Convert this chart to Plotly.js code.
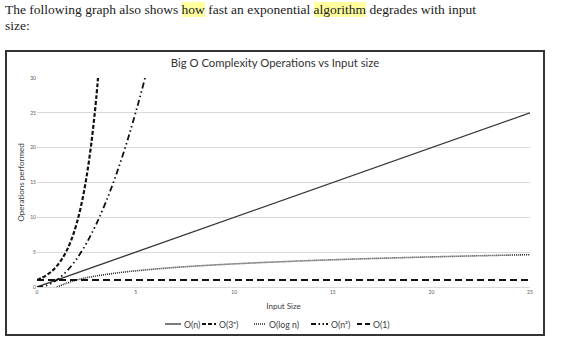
<!DOCTYPE html>
<html>
<head>
<meta charset="utf-8">
<script src="https://cdn.plot.ly/plotly-3.0.1.min.js"></script>
<style>
  html, body { margin: 0; padding: 0; background: #fff; width: 576px; height: 351px; overflow: hidden; }
  .pline { position: absolute; left: 5px; white-space: nowrap; font-family: "Liberation Serif", serif; font-size: 13.5px; line-height: 16px; color: #222; }
  #l1 { top: 2px; }
  #l2 { top: 18px; }
  .hl { background: #ffff9e; }
  #box { position: absolute; left: 5px; top: 50px; width: 536px; height: 282px; border: 2px solid #333; background: #fff; }
  #chart { position: absolute; left: 0; top: 0; width: 576px; height: 351px; }
</style>
</head>
<body>
<div class="pline" id="l1">The following graph also shows <span class="hl">how</span> fast an exponential <span class="hl">algorithm</span> degrades with input</div>
<div class="pline" id="l2">size:</div>
<div id="box"></div>
<div id="chart"></div>
<script>
// Input sizes and operation counts
const nInt = [0,1,2,3,4,5,6,7,8,9,10,11,12,13,14,15,16,17,18,19,20,21,22,23,24,25];
const opsLinear = [0,1,2,3,4,5,6,7,8,9,10,11,12,13,14,15,16,17,18,19,20,21,22,23,24,25];

const nExp = [0,0.25,0.5,0.75,1,1.25,1.5,1.75,2,2.25,2.5,2.75,3,3.25];
const opsExp = [1,1.32,1.73,2.28,3,3.95,5.2,6.84,9,11.84,15.59,20.52,27,35.5];

const nLog = [1,2,3,4,5,6,7,8,9,10,11,12,13,14,15,16,17,18,19,20,21,22,23,24,25];
const opsLog = [0,1,1.58,2,2.32,2.58,2.81,3,3.17,3.32,3.46,3.58,3.7,3.81,3.91,4,4.09,4.17,4.25,4.32,4.39,4.46,4.52,4.58,4.64];

const nSq = [0,0.5,1,1.5,2,2.5,3,3.5,4,4.5,5,5.5,6];
const opsSq = [0,0.25,1,2.25,4,6.25,9,12.25,16,20.25,25,30.25,36];

const opsConst = [1,1,1,1,1,1,1,1,1,1,1,1,1,1,1,1,1,1,1,1,1,1,1,1,1,1];

const seriesNames = ["O(n)", "O(3ⁿ)", "O(log n)", "O(n²)", "O(1)"];
const xTicks = [0,5,10,15,20,25];
const yTicks = [0,5,10,15,20,25,30];

const styles = [
  {color: "#333333", width: 1.3, dash: "solid"},
  {color: "#111111", width: 2.2, dash: "4px,2px"},
  {color: "#222222", width: 1.6, dash: "1px,1px"},
  {color: "#111111", width: 1.8, dash: "6px,3px,1.5px,3px,1.5px,3px"},
  {color: "#111111", width: 2, dash: "7px,4px"}
];

const traces = [
  {x: nInt, y: opsLinear, name: seriesNames[0], mode: "lines", line: Object.assign({}, styles[0])},
  {x: nExp, y: opsExp, name: seriesNames[1], mode: "lines", line: Object.assign({shape: "spline"}, styles[1])},
  {x: nLog, y: opsLog, name: seriesNames[2], mode: "lines", line: Object.assign({shape: "spline"}, styles[2])},
  {x: nSq, y: opsSq, name: seriesNames[3], mode: "lines", line: Object.assign({shape: "spline"}, styles[3])},
  {x: nInt, y: opsConst, name: seriesNames[4], mode: "lines", line: Object.assign({}, styles[4])}
];

// plot area in pixels
const PL = 37, PR = 530, PT = 78, PB = 287;
const px = v => (v - PL) / (PR - PL);
const py = v => (PB - v) / (PB - PT);

// compact legend (sample line start/end and text start, in px) like the reference
const legendSlots = [[165,181,183],[202,216,218],[254,266,268],[311,328,330],[357,370,372]];
const legendDash = ["solid", "4px,2px", "1px,1px", "5px,2.5px,1.5px,2.5px,1.5px,2px", "5px,3px"];
const legendY = 324;
const shapes = [], annotations = [];
legendSlots.forEach((s, i) => {
  shapes.push({type: "line", xref: "paper", yref: "paper",
    x0: px(s[0]), x1: px(s[1]), y0: py(legendY), y1: py(legendY),
    line: {color: styles[i].color, width: styles[i].width, dash: legendDash[i]}});
  annotations.push({xref: "paper", yref: "paper", x: px(s[2]), y: py(legendY),
    xanchor: "left", yanchor: "middle", showarrow: false, text: seriesNames[i], borderpad: 0,
    font: {family: "Lato, sans-serif", size: 8.7, color: "#404040"}});
});
annotations.push({xref: "paper", yref: "paper", x: px(20), y: 0.5, xanchor: "center", yanchor: "middle",
  textangle: -90, showarrow: false, text: "Operations performed",
  font: {family: "Lato, sans-serif", size: 8, color: "#404040"}});

const layout = {
  width: 576, height: 351,
  margin: {l: PL, r: 576 - PR, t: PT, b: 351 - PB},
  paper_bgcolor: "rgba(0,0,0,0)",
  plot_bgcolor: "rgba(0,0,0,0)",
  font: {family: "Lato, 'Open Sans', sans-serif", color: "#404040"},
  title: {text: "Big O Complexity Operations vs Input size",
          font: {family: "Lato, sans-serif", size: 11.3, color: "#333333"},
          xref: "container", x: 275/576, xanchor: "center",
          yref: "container", y: 1 - 63/351, yanchor: "middle"},
  xaxis: {range: [0, 25], tickvals: xTicks, showgrid: false, zeroline: false,
          showline: true, linecolor: "#d9d9d9", linewidth: 1, ticks: "",
          tickfont: {size: 5, color: "#595959"},
          title: {text: "Input Size", font: {size: 8, color: "#404040"}, standoff: 9}},
  yaxis: {range: [0, 30], tickvals: yTicks, showgrid: true, gridcolor: "#d9d9d9",
          zeroline: false, showline: false, ticks: "",
          tickfont: {size: 5, color: "#595959"}},
  shapes: shapes,
  annotations: annotations,
  showlegend: false
};

Plotly.newPlot("chart", traces, layout, {displayModeBar: false, staticPlot: true});
</script>
</body>
</html>
